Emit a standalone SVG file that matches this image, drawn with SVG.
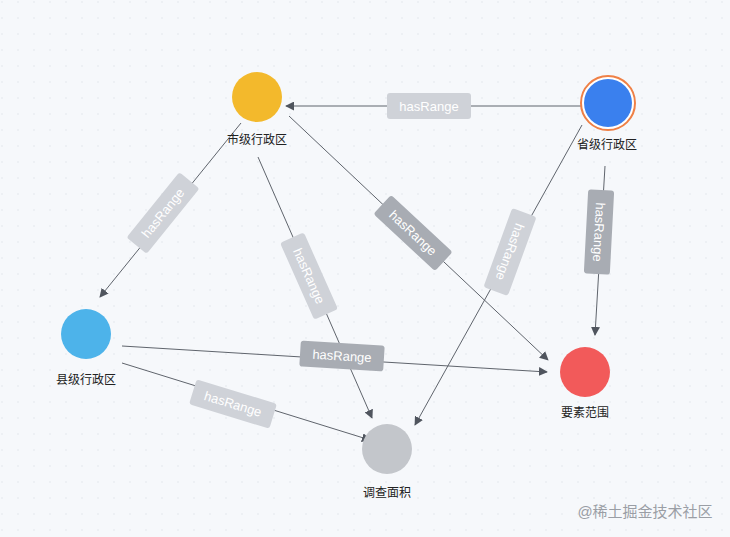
<svg xmlns="http://www.w3.org/2000/svg" width="730" height="537" viewBox="0 0 730 537">
<defs>
<pattern id="dots" width="16" height="16" patternUnits="userSpaceOnUse"><circle cx="2" cy="2" r="0.7" fill="#dde1e8"/></pattern>
<marker id="arr" viewBox="0 0 10 10" refX="9" refY="5" markerWidth="9" markerHeight="9" markerUnits="userSpaceOnUse" orient="auto"><path d="M0,0L10,5L0,10z" fill="#50555e"/></marker>
</defs>
<style>
.e{stroke:#5f646c;stroke-width:1;fill:none;marker-end:url(#arr)}
.lt rect{fill:#cfd2d8}
.dk rect{fill:#a8acb3}
.lb text{fill:#fff;font:13px "Liberation Sans",Arial,sans-serif;text-anchor:middle;dominant-baseline:central}
.nl{fill:#222;font:12px "Liberation Sans","Noto Sans CJK SC",sans-serif;text-anchor:middle}
</style>
<rect width="730" height="537" fill="#f6f8fb"/>
<rect width="730" height="537" fill="url(#dots)"/>
<g id="edges">
<line class="e" x1="582" y1="106" x2="286" y2="106"/>
<line class="e" x1="241" y1="123" x2="100" y2="297"/>
<line class="e" x1="258" y1="157" x2="372" y2="418"/>
<line class="e" x1="289" y1="116" x2="548" y2="360"/>
<line class="e" x1="582" y1="125" x2="415" y2="425"/>
<line class="e" x1="605" y1="166" x2="595" y2="335"/>
<line class="e" x1="122" y1="346" x2="547" y2="372"/>
<line class="e" x1="122" y1="363" x2="370" y2="440"/>
<g class="lb lt" transform="translate(429,106)"><rect x="-42" y="-13" width="84" height="26" rx="3"/><text>hasRange</text></g>
<g class="lb lt" transform="translate(163,213) rotate(-51)"><rect x="-42" y="-13" width="84" height="26" rx="3"/><text>hasRange</text></g>
<g class="lb lt" transform="translate(309,276) rotate(66)"><rect x="-42" y="-13" width="84" height="26" rx="3"/><text>hasRange</text></g>
<g class="lb dk" transform="translate(413,233) rotate(43)"><rect x="-42" y="-13" width="84" height="26" rx="3"/><text>hasRange</text></g>
<g class="lb lt" transform="translate(510,252) rotate(110)"><rect x="-42" y="-13" width="84" height="26" rx="3"/><text>hasRange</text></g>
<g class="lb dk" transform="translate(599,232) rotate(93)"><rect x="-42" y="-13" width="84" height="26" rx="3"/><text>hasRange</text></g>
<g class="lb dk" transform="translate(342,356) rotate(3.5)"><rect x="-42" y="-13" width="84" height="26" rx="3"/><text>hasRange</text></g>
<g class="lb lt" transform="translate(233,404) rotate(17)"><rect x="-42" y="-13" width="84" height="26" rx="3"/><text>hasRange</text></g>
</g>
<g id="n-city"><circle cx="257" cy="97" r="25" fill="#f3b92c"/><text class="nl" x="257" y="144">市级行政区</text></g>
<g id="n-prov"><circle cx="608" cy="103" r="27" fill="#fff" stroke="#ef8046" stroke-width="2"/><circle cx="608" cy="103" r="24" fill="#3a80ee"/><text class="nl" x="607" y="149">省级行政区</text></g>
<g id="n-county"><circle cx="86" cy="334" r="25" fill="#4db3ea"/><text class="nl" x="86" y="384">县级行政区</text></g>
<g id="n-elem"><circle cx="585" cy="372" r="25" fill="#f25a5a"/><text class="nl" x="585" y="417">要素范围</text></g>
<g id="n-area"><circle cx="387" cy="449" r="25" fill="#c3c6cb"/><text class="nl" x="387" y="497">调查面积</text></g>
<text x="645" y="517" fill="#9a9ea5" font-family="Liberation Sans,Noto Sans CJK SC,sans-serif" font-size="15" text-anchor="middle">@稀土掘金技术社区</text>
</svg>
